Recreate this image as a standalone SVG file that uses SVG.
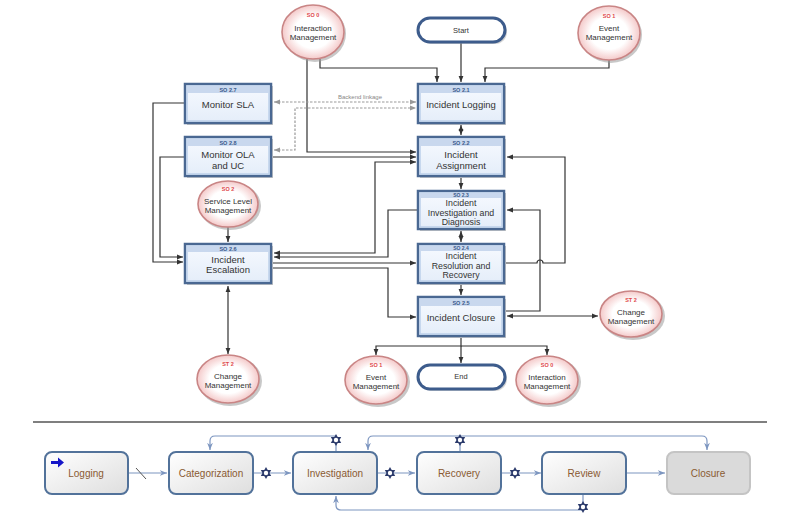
<svg xmlns="http://www.w3.org/2000/svg" width="800" height="530" viewBox="0 0 800 530">
<defs>
<style>
text{font-family:"Liberation Sans",Arial,sans-serif}
.bx{fill:url(#bxg);stroke:#4a6892;stroke-width:2.5}
.bxin{fill:none;stroke:#bcd0ea;stroke-width:1.5}
.hd{fill:#c9d8ee}
.sh{fill:#9a9a9a;opacity:.55}
.code{font-size:5.5px;font-weight:bold;fill:#3a5a8c;text-anchor:middle}
.code2{font-size:5px;font-weight:bold;fill:#3a5a8c;text-anchor:middle}
.lbl{font-size:9.5px;fill:#333;text-anchor:middle}
.lbl2{font-size:8.8px;fill:#333;text-anchor:middle}
.el{fill:url(#elg);stroke:#c98585;stroke-width:1.6}
.ecode{font-size:5.5px;font-weight:bold;fill:#e0474a;text-anchor:middle}
.elbl{font-size:8px;fill:#333;text-anchor:middle}
.pill{fill:#fff;stroke:#3d5c8c;stroke-width:3}
.plbl{font-size:7.5px;fill:#333;text-anchor:middle}
.ln{fill:none;stroke:#333;stroke-width:1.2}
.dl{fill:none;stroke:#999;stroke-width:1.2;stroke-dasharray:2.5,1.5}
.bl{fill:none;stroke:#7d96c0;stroke-width:1.2}
.pb{fill:url(#pbg);stroke:#52729a;stroke-width:2}
.pbt{font-size:10px;fill:#8a5a32;text-anchor:middle}
</style>
<linearGradient id="bxg" x1="0" y1="0" x2="0" y2="1"><stop offset="0" stop-color="#f7faff"/><stop offset="1" stop-color="#e4edf9"/></linearGradient>
<radialGradient id="elg" cx="0.5" cy="0.5" r="0.5"><stop offset="0.6" stop-color="#ffffff"/><stop offset="1" stop-color="#f4c9c9"/></radialGradient>
<linearGradient id="pbg" x1="0" y1="0" x2="1" y2="1"><stop offset="0" stop-color="#ffffff"/><stop offset="1" stop-color="#dedede"/></linearGradient>
<marker id="ah" viewBox="0 0 10 10" refX="10" refY="5" markerWidth="5" markerHeight="5" orient="auto-start-reverse"><path d="M0,1 L10,5 L0,9z" fill="#333"/></marker>
<marker id="ad" viewBox="0 0 10 10" refX="10" refY="5" markerWidth="5" markerHeight="5" orient="auto-start-reverse"><path d="M0,1 L10,5 L0,9z" fill="#999"/></marker>
<marker id="ab" viewBox="0 0 10 10" refX="10" refY="5" markerWidth="6" markerHeight="6" orient="auto-start-reverse"><path d="M0,1 L10,5 L0,9 L3,5z" fill="#7d96c0"/></marker>
<g id="gear"><polygon points="0,-6 5.2,3 -5.2,3" fill="#2b3a6b"/><polygon points="0,6 5.2,-3 -5.2,-3" fill="#2b3a6b"/><circle r="2.2" fill="#fff"/></g>
</defs>
<rect width="800" height="530" fill="#fff"/>

<g id="connectors">
<path class="ln" d="M307,59 V152 H416" marker-end="url(#ah)"/>
<path class="ln" d="M320,59 V68 H437 V82" marker-end="url(#ah)"/>
<path class="ln" d="M461,43 V82" marker-end="url(#ah)"/>
<path class="ln" d="M609,60 V68 H485 V82" marker-end="url(#ah)"/>
<path class="ln" d="M461,125 V135" marker-start="url(#ah)" marker-end="url(#ah)"/>
<path class="ln" d="M461,178 V189" marker-end="url(#ah)"/>
<path class="ln" d="M461,231 V242" marker-start="url(#ah)" marker-end="url(#ah)"/>
<path class="ln" d="M461,285 V295" marker-end="url(#ah)"/>
<path class="ln" d="M461,338 V346 H376 V355" marker-end="url(#ah)"/>
<path class="ln" d="M461,346 H547 V355" marker-end="url(#ah)"/>
<path class="ln" d="M461,346 V363" marker-end="url(#ah)"/>
<path class="ln" d="M507,316 H598" marker-start="url(#ah)" marker-end="url(#ah)"/>
<path class="ln" d="M506,311 H540 V210 H507" marker-end="url(#ah)"/>
<path class="ln" d="M506,263 H537 A3,3 0 0 1 543,263 H565 V157 H507" marker-end="url(#ah)"/>
<path class="ln" d="M273,157 H416" marker-end="url(#ah)"/>
<path class="ln" d="M274,253 H375 V162 H416" marker-start="url(#ah)" marker-end="url(#ah)"/>
<path class="ln" d="M417,210 H388 V257 H274" marker-end="url(#ah)"/>
<path class="ln" d="M273,263 H416" marker-end="url(#ah)"/>
<path class="ln" d="M273,268 H388 V317 H416" marker-end="url(#ah)"/>
<path class="ln" d="M185,103 H153 V262 H183" marker-end="url(#ah)"/>
<path class="ln" d="M185,157 H160 V257 H183" marker-end="url(#ah)"/>
<path class="ln" d="M228,227 V242" marker-end="url(#ah)"/>
<path class="ln" d="M228,286 V354" marker-start="url(#ah)" marker-end="url(#ah)"/>
<path class="dl" d="M274,102 H416" marker-start="url(#ad)" marker-end="url(#ad)"/>
<path class="dl" d="M274,150 H295 V108 H416" marker-start="url(#ad)" marker-end="url(#ad)"/>
<text x="360" y="99" font-size="6px" fill="#888" text-anchor="middle">Backend linkage</text>

<path class="bl" d="M129,473 H167" marker-end="url(#ab)"/>
<path d="M136,468 L146,479" stroke="#555" stroke-width="1"/>
<path class="bl" d="M254,473 H291" marker-end="url(#ab)"/>
<path class="bl" d="M378,473 H415" marker-end="url(#ab)"/>
<path class="bl" d="M502,473 H541" marker-end="url(#ab)"/>
<path class="bl" d="M627,473 H665" marker-end="url(#ab)"/>
<path class="bl" d="M336,451 V436 H215 Q210,436 210,441 V450" marker-end="url(#ab)"/>
<path class="bl" d="M460,451 V436"/>
<path class="bl" d="M368,450 V441 Q368,436 373,436 H702 Q707,436 707,441 V450" marker-start="url(#ab)" marker-end="url(#ab)"/>
<path class="bl" d="M583,495 V510 H341 Q336,510 336,505 V496" marker-end="url(#ab)"/>
<use href="#gear" x="266" y="473"/>
<use href="#gear" x="390" y="473"/>
<use href="#gear" x="515" y="473"/>
<use href="#gear" x="336" y="440"/>
<use href="#gear" x="460" y="440"/>
<use href="#gear" x="583" y="507"/>
</g>

<g id="n-so0-top"><ellipse cx="315" cy="34" rx="31" ry="28" class="sh"/><ellipse cx="313" cy="32" rx="31" ry="27" class="el"/><text class="ecode" x="313" y="17">SO 0</text><text class="elbl" x="313" y="31">Interaction</text><text class="elbl" x="313" y="40">Management</text></g>
<g id="n-start"><rect x="420" y="20" width="87" height="24" rx="12" fill="#aaa" opacity=".5"/><rect x="418" y="18" width="87" height="24" rx="12" class="pill"/><text class="plbl" x="461" y="33">Start</text></g>
<g id="n-so1-top"><ellipse cx="611" cy="35" rx="31" ry="28" class="sh"/><ellipse cx="609" cy="33" rx="31" ry="27" class="el"/><text class="ecode" x="609" y="18">SO 1</text><text class="elbl" x="609" y="31">Event</text><text class="elbl" x="609" y="40">Management</text></g>

<g id="n-logging"><rect x="420" y="86" width="86" height="39" class="sh"/><rect x="418" y="84" width="86" height="39" class="bx"/><rect x="420" y="86" width="82" height="35" class="bxin"/><rect x="420" y="86" width="82" height="7" class="hd"/><text class="code" x="461" y="92">SO 2.1</text><text class="lbl" x="461" y="108">Incident Logging</text></g>
<g id="n-assignment"><rect x="420" y="139" width="86" height="39" class="sh"/><rect x="418" y="137" width="86" height="39" class="bx"/><rect x="420" y="139" width="82" height="35" class="bxin"/><rect x="420" y="139" width="82" height="7" class="hd"/><text class="code" x="461" y="145">SO 2.2</text><text class="lbl" x="461" y="158">Incident</text><text class="lbl" x="461" y="169">Assignment</text></g>
<g id="n-investigation"><rect x="420" y="193" width="86" height="38" class="sh"/><rect x="418" y="191" width="86" height="38" class="bx"/><rect x="420" y="193" width="82" height="34" class="bxin"/><rect x="420" y="193" width="82" height="5" class="hd"/><text class="code2" x="461" y="197">SO 2.3</text><text class="lbl2" x="461" y="206">Incident</text><text class="lbl2" x="461" y="215.5">Investigation and</text><text class="lbl2" x="461" y="225">Diagnosis</text></g>
<g id="n-resolution"><rect x="420" y="246" width="86" height="39" class="sh"/><rect x="418" y="244" width="86" height="39" class="bx"/><rect x="420" y="246" width="82" height="35" class="bxin"/><rect x="420" y="246" width="82" height="5" class="hd"/><text class="code2" x="461" y="250">SO 2.4</text><text class="lbl2" x="461" y="259">Incident</text><text class="lbl2" x="461" y="268.5">Resolution and</text><text class="lbl2" x="461" y="278">Recovery</text></g>
<g id="n-closure"><rect x="420" y="299" width="86" height="39" class="sh"/><rect x="418" y="297" width="86" height="39" class="bx"/><rect x="420" y="299" width="82" height="35" class="bxin"/><rect x="420" y="299" width="82" height="7" class="hd"/><text class="code" x="461" y="305">SO 2.5</text><text class="lbl" x="461" y="321">Incident Closure</text></g>
<g id="n-sla"><rect x="187" y="86" width="86" height="39" class="sh"/><rect x="185" y="84" width="86" height="39" class="bx"/><rect x="187" y="86" width="82" height="35" class="bxin"/><rect x="187" y="86" width="82" height="7" class="hd"/><text class="code" x="228" y="92">SO 2.7</text><text class="lbl" x="228" y="108">Monitor SLA</text></g>
<g id="n-ola"><rect x="187" y="139" width="86" height="39" class="sh"/><rect x="185" y="137" width="86" height="39" class="bx"/><rect x="187" y="139" width="82" height="35" class="bxin"/><rect x="187" y="139" width="82" height="7" class="hd"/><text class="code" x="228" y="145">SO 2.8</text><text class="lbl" x="228" y="158">Monitor OLA</text><text class="lbl" x="228" y="169">and UC</text></g>
<g id="n-escalation"><rect x="187" y="246" width="86" height="39" class="sh"/><rect x="185" y="244" width="86" height="39" class="bx"/><rect x="187" y="246" width="82" height="35" class="bxin"/><rect x="187" y="246" width="82" height="6" class="hd"/><text class="code" x="228" y="251">SO 2.6</text><text class="lbl" x="228" y="263">Incident</text><text class="lbl" x="228" y="273">Escalation</text></g>

<g id="n-slm"><ellipse cx="230" cy="206" rx="31" ry="24" class="sh"/><ellipse cx="228" cy="204" rx="30" ry="23" class="el"/><text class="ecode" x="228" y="191">SO 2</text><text class="elbl" x="228" y="204">Service Level</text><text class="elbl" x="228" y="213">Management</text></g>
<g id="n-st2-left"><ellipse cx="230" cy="381" rx="32" ry="25" class="sh"/><ellipse cx="228" cy="379" rx="31" ry="24" class="el"/><text class="ecode" x="228" y="366">ST 2</text><text class="elbl" x="228" y="379">Change</text><text class="elbl" x="228" y="388">Management</text></g>
<g id="n-st2-right"><ellipse cx="633" cy="316" rx="32" ry="24" class="sh"/><ellipse cx="631" cy="314" rx="31" ry="23" class="el"/><text class="ecode" x="631" y="302">ST 2</text><text class="elbl" x="631" y="315">Change</text><text class="elbl" x="631" y="324">Management</text></g>
<g id="n-so1-bottom"><ellipse cx="378" cy="382" rx="32" ry="25" class="sh"/><ellipse cx="376" cy="380" rx="31" ry="24" class="el"/><text class="ecode" x="376" y="367">SO 1</text><text class="elbl" x="376" y="380">Event</text><text class="elbl" x="376" y="389">Management</text></g>
<g id="n-end"><rect x="420" y="367" width="87" height="24" rx="12" fill="#aaa" opacity=".5"/><rect x="418" y="365" width="87" height="24" rx="12" class="pill"/><text class="plbl" x="461" y="379">End</text></g>
<g id="n-so0-bottom"><ellipse cx="549" cy="382" rx="32" ry="25" class="sh"/><ellipse cx="547" cy="380" rx="31" ry="24" class="el"/><text class="ecode" x="547" y="367">SO 0</text><text class="elbl" x="547" y="380">Interaction</text><text class="elbl" x="547" y="389">Management</text></g>

<line x1="33" y1="422" x2="767" y2="422" stroke="#555" stroke-width="1.5"/>

<g id="p-logging"><rect x="45" y="452" width="83" height="42" rx="7" class="pb"/><path d="M51,461 H58 V457.5 L64,462.5 L58,467.5 V464 H51z" fill="#1616c8"/><text class="pbt" x="86" y="477">Logging</text></g>
<g id="p-categorization"><rect x="169" y="452" width="84" height="42" rx="7" class="pb"/><text class="pbt" x="211" y="477">Categorization</text></g>
<g id="p-investigation"><rect x="293" y="452" width="84" height="42" rx="7" class="pb"/><text class="pbt" x="335" y="477">Investigation</text></g>
<g id="p-recovery"><rect x="417" y="452" width="84" height="42" rx="7" class="pb"/><text class="pbt" x="459" y="477">Recovery</text></g>
<g id="p-review"><rect x="542" y="452" width="84" height="42" rx="7" class="pb"/><text class="pbt" x="584" y="477">Review</text></g>
<g id="p-closure"><rect x="667" y="452" width="83" height="42" rx="7" fill="#dadada" stroke="#c4c4c4" stroke-width="2"/><text class="pbt" x="708" y="477" fill="#7a6048">Closure</text></g>
</svg>
